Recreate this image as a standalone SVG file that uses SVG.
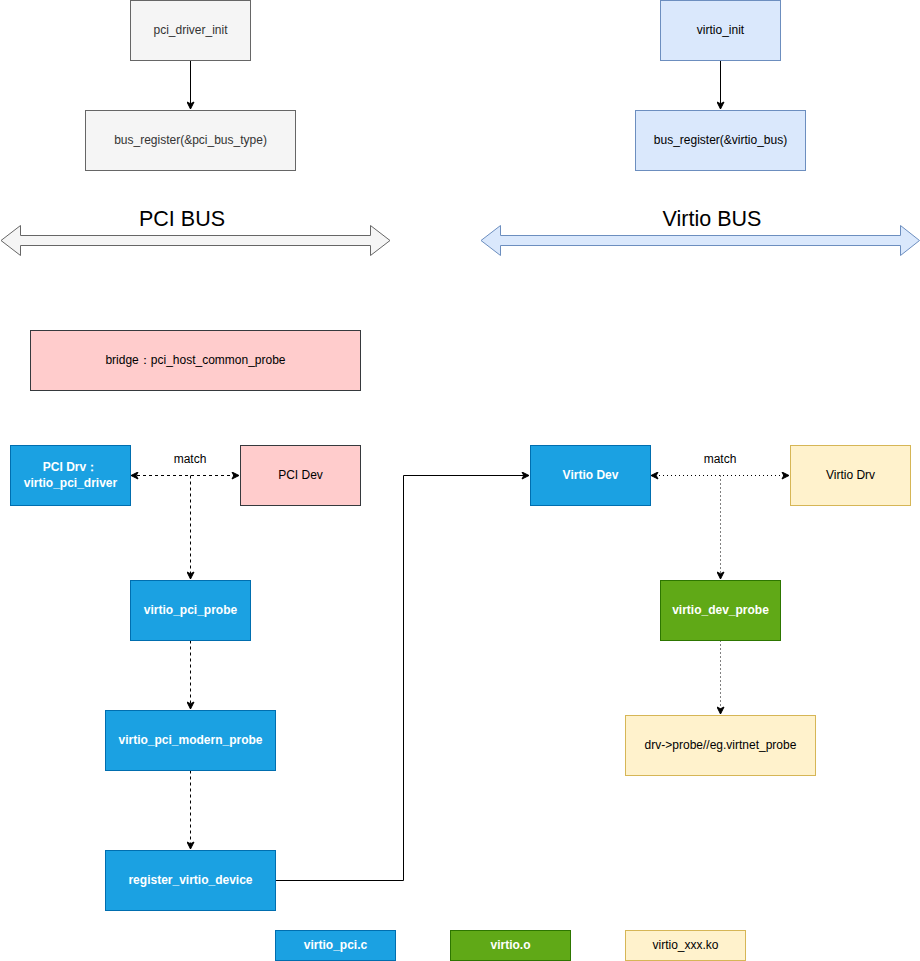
<svg xmlns="http://www.w3.org/2000/svg" width="920" height="961" viewBox="0 0 920 961">
<style>
text{font-family:"Liberation Sans",Arial,Helvetica,sans-serif;font-size:12px;text-anchor:middle;dominant-baseline:central}
.gray{fill:#f5f5f5;stroke:#666666}
.lblue{fill:#dae8fc;stroke:#6c8ebf}
.red{fill:#ffcccc;stroke:#36393d}
.blue{fill:#1ba1e2;stroke:#006eaf}
.green{fill:#60a917;stroke:#2d7600}
.yellow{fill:#fff2cc;stroke:#d6b656}
.dark{fill:#333333}
.blk{fill:#000000}
.wht{fill:#ffffff;font-weight:bold}
.edge{fill:none;stroke:#000000;stroke-width:1}
.dash{stroke-dasharray:3 3}
.dot{stroke-dasharray:1 3}
.bus{font-size:21.5px;fill:#000000}
</style>
<defs>
<marker id="arr" viewBox="-8 -4 8 8" refX="0" refY="0" markerWidth="8" markerHeight="8" markerUnits="userSpaceOnUse" orient="auto-start-reverse">
<path d="M-7,-3.5 L0,0 L-7,3.5 L-5.25,0 Z" fill="#000000" stroke="#000000" stroke-width="1"/>
</marker>
</defs>
<g id="edges">
<path class="edge" d="M190.5,60.5 V109" marker-end="url(#arr)"/>
<path class="edge" d="M720.5,60.5 V109" marker-end="url(#arr)"/>
<path class="edge dash" d="M131,475.5 H239" marker-start="url(#arr)" marker-end="url(#arr)"/>
<path class="edge dash" d="M190.5,475.5 V579" marker-end="url(#arr)"/>
<path class="edge dash" d="M190.5,640.5 V709" marker-end="url(#arr)"/>
<path class="edge dash" d="M190.5,770.5 V849" marker-end="url(#arr)"/>
<path class="edge" d="M275.5,880.5 H403.5 V475.5 H529" marker-end="url(#arr)"/>
<path class="edge dot" d="M651,475.5 H789" marker-start="url(#arr)" marker-end="url(#arr)"/>
<path class="edge dot" d="M720.5,475.5 V579" marker-end="url(#arr)"/>
<path class="edge dot" d="M720.5,640.5 V714" marker-end="url(#arr)"/>
<text x="190" y="459" class="blk">match</text>
<text x="720" y="459" class="blk">match</text>
</g>
<g id="pci_driver_init"><rect x="130.5" y="0.5" width="120" height="60" class="gray"/><text x="190.5" y="29.5" class="dark">pci_driver_init</text></g>
<g id="bus_register_pci"><rect x="85.5" y="110.5" width="210" height="60" class="gray"/><text x="190.5" y="139.5" class="dark">bus_register(&amp;pci_bus_type)</text></g>
<g id="virtio_init"><rect x="660.5" y="0.5" width="120" height="60" class="lblue"/><text x="720.5" y="29.5" class="blk">virtio_init</text></g>
<g id="bus_register_virtio"><rect x="635.5" y="110.5" width="170" height="60" class="lblue"/><text x="720.5" y="139.5" class="blk">bus_register(&amp;virtio_bus)</text></g>
<g id="pci_bus"><polygon points="1,240.5 20.5,225.5 20.5,235.5 370.5,235.5 370.5,225.5 390,240.5 370.5,255.5 370.5,245.5 20.5,245.5 20.5,255.5" class="gray"/><text x="182" y="219" class="bus">PCI BUS</text></g>
<g id="virtio_bus"><polygon points="481,240.5 500.5,225.5 500.5,235.5 900.5,235.5 900.5,225.5 919.5,240.5 900.5,255.5 900.5,245.5 500.5,245.5 500.5,255.5" class="lblue"/><text x="712" y="219" class="bus">Virtio BUS</text></g>
<g id="bridge"><rect x="30.5" y="330.5" width="330" height="60" class="red"/><text x="195.5" y="359.5" class="blk">bridge：pci_host_common_probe</text></g>
<g id="pci_drv"><rect x="10.5" y="445.5" width="120" height="60" class="blue"/><text x="70.5" y="466.5" class="wht">PCI Drv：</text><text x="70.5" y="482.5" class="wht">virtio_pci_driver</text></g>
<g id="pci_dev"><rect x="240.5" y="445.5" width="120" height="60" class="red"/><text x="300.5" y="474.5" class="blk">PCI Dev</text></g>
<g id="virtio_pci_probe"><rect x="130.5" y="580.5" width="120" height="60" class="blue"/><text x="190.5" y="609.5" class="wht">virtio_pci_probe</text></g>
<g id="virtio_pci_modern_probe"><rect x="105.5" y="710.5" width="170" height="60" class="blue"/><text x="190.5" y="739.5" class="wht">virtio_pci_modern_probe</text></g>
<g id="register_virtio_device"><rect x="105.5" y="850.5" width="170" height="60" class="blue"/><text x="190.5" y="879.5" class="wht">register_virtio_device</text></g>
<g id="virtio_dev"><rect x="530.5" y="445.5" width="120" height="60" class="blue"/><text x="590.5" y="474.5" class="wht">Virtio Dev</text></g>
<g id="virtio_drv"><rect x="790.5" y="445.5" width="120" height="60" class="yellow"/><text x="850.5" y="474.5" class="blk">Virtio Drv</text></g>
<g id="virtio_dev_probe"><rect x="660.5" y="580.5" width="120" height="60" class="green"/><text x="720.5" y="609.5" class="wht">virtio_dev_probe</text></g>
<g id="drv_probe"><rect x="625.5" y="715.5" width="190" height="60" class="yellow"/><text x="720.5" y="744.5" class="blk">drv-&gt;probe//eg.virtnet_probe</text></g>
<g id="legend_pci"><rect x="275.5" y="930.5" width="120" height="30" class="blue"/><text x="335.5" y="944.5" class="wht">virtio_pci.c</text></g>
<g id="legend_virtio"><rect x="450.5" y="930.5" width="120" height="30" class="green"/><text x="510.5" y="944.5" class="wht">virtio.o</text></g>
<g id="legend_ko"><rect x="625.5" y="930.5" width="120" height="30" class="yellow"/><text x="685.5" y="944.5" class="blk">virtio_xxx.ko</text></g>
</svg>
